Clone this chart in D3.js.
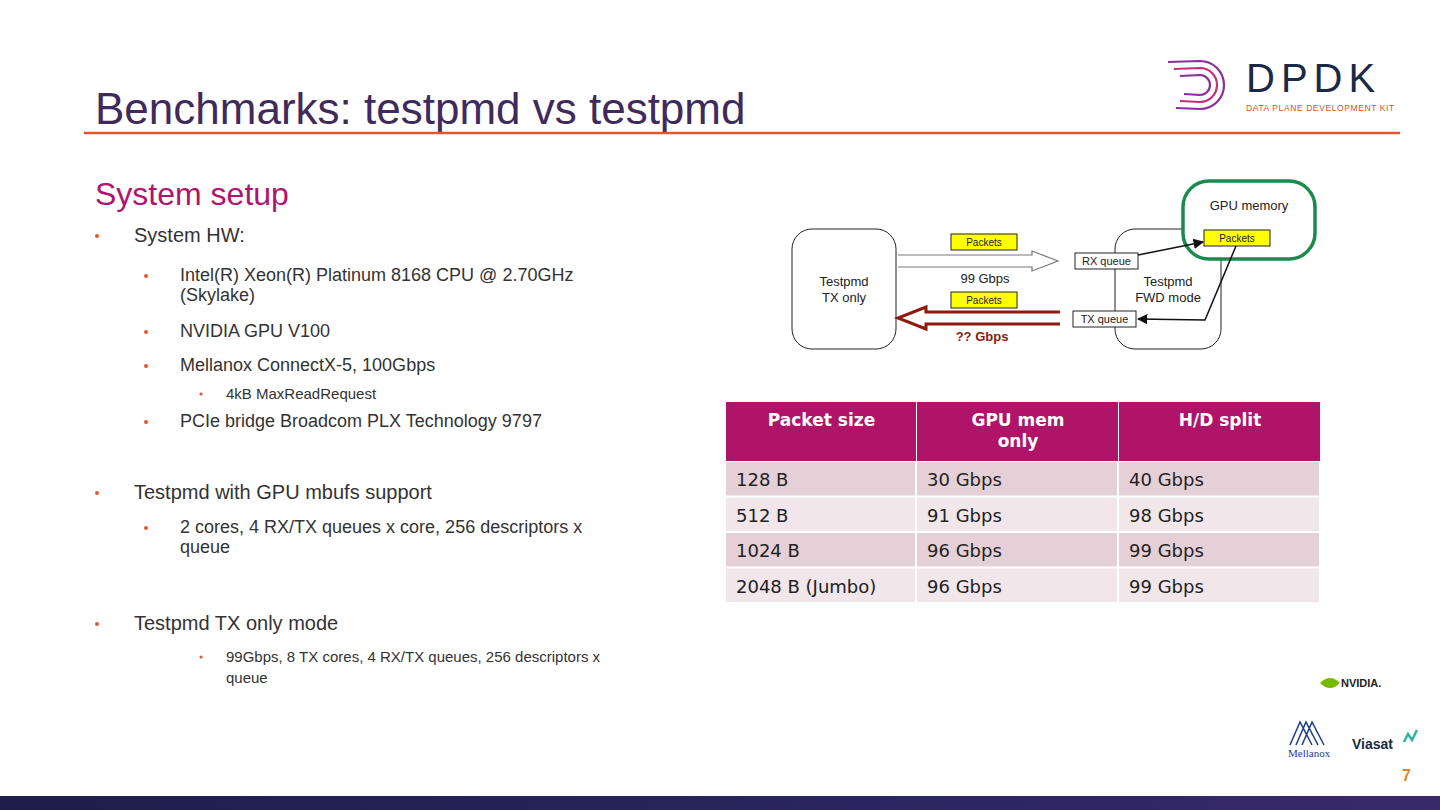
<!DOCTYPE html>
<html><head><meta charset="utf-8">
<script src="https://cdn.jsdelivr.net/npm/d3@7"></script>
<style>body{margin:0;background:#fff}svg{display:block}</style>
</head><body>
<div id="slide"></div>
<script>
// slide content
var headers = ["Packet size", "GPU mem\nonly", "H/D split"];
var packetSizes = ["128 B", "512 B", "1024 B", "2048 B (Jumbo)"];
var gpuOnly = ["30 Gbps", "91 Gbps", "96 Gbps", "96 Gbps"];
var hdSplit = ["40 Gbps", "98 Gbps", "99 Gbps", "99 Gbps"];

var bullets = [
  {lvl: 0, y: 242, t: "System HW:"},
  {lvl: 1, y: 281, t: "Intel(R) Xeon(R) Platinum 8168 CPU @ 2.70GHz"},
  {lvl: -1, y: 301, t: "(Skylake)"},
  {lvl: 1, y: 337, t: "NVIDIA GPU V100"},
  {lvl: 1, y: 371, t: "Mellanox ConnectX-5, 100Gbps"},
  {lvl: 2, y: 399, t: "4kB MaxReadRequest"},
  {lvl: 1, y: 427, t: "PCIe bridge Broadcom PLX Technology 9797"},
  {lvl: 0, y: 499, t: "Testpmd with GPU mbufs support"},
  {lvl: 1, y: 533, t: "2 cores, 4 RX/TX queues x core, 256 descriptors x"},
  {lvl: -1, y: 553, t: "queue"},
  {lvl: 0, y: 630, t: "Testpmd TX only mode"},
  {lvl: 2, y: 662, t: "99Gbps, 8 TX cores, 4 RX/TX queues, 256 descriptors x"},
  {lvl: -2, y: 683, t: "queue"}
];

var svg = d3.select("#slide").append("svg").attr("width", 1440).attr("height", 810);
var F = "Liberation Sans, Arial, sans-serif";

// title
svg.append("text").attr("x", 95).attr("y", 124).attr("font-family", F).attr("font-size", 44)
  .attr("fill", "#3f2a5c").text("Benchmarks: testpmd vs testpmd");
svg.append("line").attr("x1", 84).attr("x2", 1400).attr("y1", 133).attr("y2", 133)
  .attr("stroke", "#e0572c").attr("stroke-width", 2.5);

// DPDK logo
var lg = svg.append("g");
[0, 1, 2].forEach(function (i) {
  var r = 24 - i * 7;
  lg.append("path").attr("d", "M" + (1168 + i * 6) + "," + (62 + i * 7) + " L" + (1200) + "," + (85 - r) +
      " A" + r + "," + r + " 0 0 1 1200," + (85 + r) + " L" + (1176 + i * 4) + "," + (108 - i * 7))
    .attr("fill", "none").attr("stroke", i == 1 ? "#c0307a" : "#8a2f9a").attr("stroke-width", 2.2);
});
lg.append("text").attr("x", 1246).attr("y", 92).attr("font-family", F).attr("font-size", 40)
  .attr("letter-spacing", 6).attr("fill", "#1b2a44").text("DPDK");
lg.append("text").attr("x", 1246).attr("y", 111).attr("font-family", F).attr("font-size", 8.5)
  .attr("letter-spacing", 0.6).attr("fill", "#d8502a").text("DATA PLANE DEVELOPMENT KIT");

// left text
svg.append("text").attr("x", 95).attr("y", 205).attr("font-family", F).attr("font-size", 32)
  .attr("fill", "#b0146e").text("System setup");
var bx = {0: 134, 1: 180, 2: 226}, dx = {0: 97, 1: 146, 2: 201}, fs = {0: 20, 1: 18, 2: 15};
bullets.forEach(function (b) {
  var l = Math.abs(b.lvl);
  if (b.lvl >= 0) {
    svg.append("circle").attr("cx", dx[l]).attr("cy", b.y - (l == 0 ? 6 : 5)).attr("r", l == 2 ? 1.6 : 2)
      .attr("fill", "#e0572c");
  }
  svg.append("text").attr("x", bx[l]).attr("y", b.y).attr("font-family", F).attr("font-size", fs[l])
    .attr("fill", "#333").text(b.t);
});

// diagram
var dg = svg.append("g").attr("font-family", F).attr("fill", "#222");
function rbox(x, y, w, h, r, s, sw) {
  dg.append("rect").attr("x", x).attr("y", y).attr("width", w).attr("height", h).attr("rx", r)
    .attr("fill", "#fff").attr("stroke", s).attr("stroke-width", sw);
}
function label(x, y, t, size, col, wt) {
  dg.append("text").attr("x", x).attr("y", y).attr("text-anchor", "middle").attr("font-size", size)
    .attr("fill", col || "#222").attr("font-weight", wt || "normal").text(t);
}
rbox(792, 229, 104, 120, 20, "#222", 1);
rbox(1115, 229, 106, 120, 20, "#222", 1);
label(844, 286, "Testpmd", 13); label(844, 302, "TX only", 13);
label(1168, 286, "Testpmd", 13); label(1168, 302, "FWD mode", 13);
rbox(1183, 181, 132, 78, 26, "#1a8a4e", 3.5);
label(1249, 210, "GPU memory", 13);
function pk(x, y) {
  dg.append("rect").attr("x", x).attr("y", y).attr("width", 66).attr("height", 16).attr("fill", "#ffff00").attr("stroke", "#222");
  label(x + 33, y + 12, "Packets", 10);
}
pk(951, 234); pk(951, 292); pk(1204, 230);
function qbox(x, y, t) {
  dg.append("rect").attr("x", x).attr("y", y).attr("width", 63).attr("height", 16).attr("fill", "#fff").attr("stroke", "#222");
  label(x + 31.5, y + 12, t, 11);
}
// rx arrow (hollow)
dg.append("path").attr("d", "M898,255 L1032,255 L1032,251 L1058,261 L1032,271 L1032,267 L898,267")
  .attr("fill", "#fff").attr("stroke", "#777").attr("stroke-width", 1.2);
label(985, 283, "99 Gbps", 13);
// tx arrow (dark red)
dg.append("path").attr("d", "M1060,312 L926,312 L926,307 L898,318 L926,329 L926,324 L1060,324")
  .attr("fill", "none").attr("stroke", "#8b1a10").attr("stroke-width", 3);
label(982, 341, "?? Gbps", 13, "#8b1a10", "bold");
qbox(1075, 253, "RX queue"); qbox(1073, 311, "TX queue");
dg.append("defs").append("marker").attr("id", "ah").attr("viewBox", "0 0 10 10").attr("refX", 9).attr("refY", 5)
  .attr("markerWidth", 7).attr("markerHeight", 7).attr("orient", "auto")
  .append("path").attr("d", "M0,0 L10,5 L0,10 z").attr("fill", "#111");
dg.append("line").attr("x1", 1138).attr("y1", 255).attr("x2", 1203).attr("y2", 242).attr("stroke", "#111").attr("stroke-width", 1.5).attr("marker-end", "url(#ah)");
dg.append("path").attr("d", "M1236,246 L1205,320 L1138,319").attr("fill", "none").attr("stroke", "#111").attr("stroke-width", 1.5).attr("marker-end", "url(#ah)");

// table
var colX = d3.scaleOrdinal().domain([0, 1, 2]).range([726, 917, 1119]);
var colW = [191, 202, 202];
var rowY = d3.scaleBand().domain(d3.range(packetSizes.length)).range([462, 604]);
var tf = "DejaVu Sans, sans-serif";
headers.forEach(function (h, i) {
  svg.append("rect").attr("x", colX(i)).attr("y", 402).attr("width", colW[i] - 1).attr("height", 59).attr("fill", "#b01468");
  h.split("\n").forEach(function (s, j) {
    svg.append("text").attr("x", colX(i) + colW[i] / 2).attr("y", 426 + j * 21).attr("text-anchor", "middle")
      .attr("font-family", tf).attr("font-weight", "bold").attr("font-size", 17).attr("fill", "#fff").text(s);
  });
});
var rows = packetSizes.map(function (p, i) { return [p, gpuOnly[i], hdSplit[i]]; });
rows.forEach(function (r, i) {
  r.forEach(function (v, c) {
    svg.append("rect").attr("x", colX(c)).attr("y", rowY(i)).attr("width", colW[c] - 2).attr("height", rowY.bandwidth() - 2)
      .attr("fill", i % 2 ? "#f1e6ea" : "#e6d0d8");
    svg.append("text").attr("x", colX(c) + 10).attr("y", rowY(i) + 24).attr("font-family", tf).attr("font-size", 18)
      .attr("fill", "#222").text(v);
  });
});

// sponsor logos
svg.append("path").attr("d", "M1320,683 q10,-10 20,0 q-10,10 -20,0").attr("fill", "#76b900");
svg.append("text").attr("x", 1341).attr("y", 687).attr("font-family", F).attr("font-weight", "bold").attr("font-size", 11).attr("fill", "#222").text("NVIDIA.");
svg.append("path").attr("d", "M1290,745 L1300,722 L1312,745 M1296,745 L1306,722 L1318,745 M1302,745 L1312,722 L1324,745").attr("fill", "none").attr("stroke", "#1a3d8a").attr("stroke-width", 1.5);
svg.append("text").attr("x", 1288).attr("y", 757).attr("font-family", "Liberation Serif, serif").attr("font-size", 11).attr("fill", "#1a3d8a").text("Mellanox");
svg.append("text").attr("x", 1352).attr("y", 749).attr("font-family", F).attr("font-weight", "bold").attr("font-size", 14).attr("fill", "#1b2a44").text("Viasat");
svg.append("path").attr("d", "M1404,742 l4,-8 l4,6 l5,-10").attr("fill", "none").attr("stroke", "#2bb5a0").attr("stroke-width", 2.5);

svg.append("text").attr("x", 1411).attr("y", 781).attr("text-anchor", "end").attr("font-family", F).attr("font-weight", "bold")
  .attr("font-size", 16).attr("fill", "#e0872c").text("7");

// footer band
var gr = svg.append("defs").append("linearGradient").attr("id", "fb");
gr.append("stop").attr("offset", "0").attr("stop-color", "#1c1f4a");
gr.append("stop").attr("offset", "0.6").attr("stop-color", "#2a2560");
gr.append("stop").attr("offset", "1").attr("stop-color", "#3a2a6a");
svg.append("rect").attr("x", 0).attr("y", 796).attr("width", 1440).attr("height", 14).attr("fill", "url(#fb)");
</script>
</body></html>
